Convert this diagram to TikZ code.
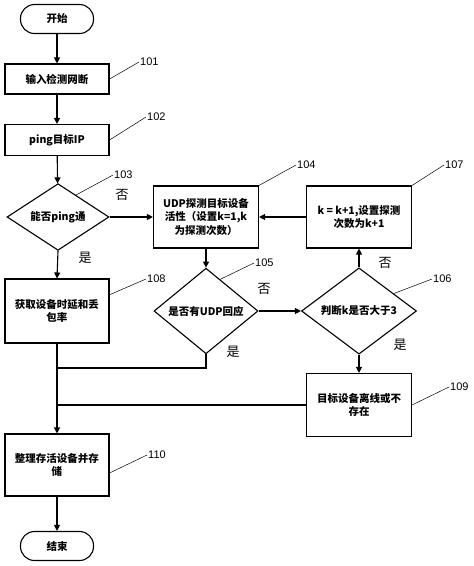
\documentclass[tikz,border=0pt]{standalone}
\usepackage{fontspec}
\setmainfont{Noto Sans CJK SC}
\newfontfamily\numfont{Liberation Sans}
\usetikzlibrary{shapes,arrows,positioning,calc,arrows.meta}

\begin{document}
\begin{tikzpicture}[x=1pt,y=-1pt,
                stepbox/.style={draw,line width=1.1pt,minimum width=104pt,
                                minimum height=31pt,align=center,inner sep=2pt,
                                font=\bfseries\fontsize{10.5}{13.5}\selectfont},
                decision/.style={diamond,draw,line width=1.1pt,inner sep=0pt,
                                 font=\bfseries\fontsize{10.5}{12}\selectfont},
                terminal/.style={draw,line width=1.1pt,rounded corners=14pt,
                                 minimum width=73pt,minimum height=29pt,
                                 font=\bfseries\fontsize{10.5}{12}\selectfont},
                num/.style={font=\numfont\fontsize{11}{12}\selectfont,inner sep=1pt,anchor=west},
                answer/.style={font=\fontsize{13}{14}\selectfont,inner sep=0pt},
                flow/.style={line width=1.1pt,-{Triangle[length=6pt,width=6pt]}},
                linkline/.style={line width=1.1pt},
                leader/.style={line width=0.5pt}
            ]
                \useasboundingbox (0,0) rectangle (474,566);
                % main column
                \node[terminal] (start) at (57,19) {开始};
                \node[stepbox,minimum height=30pt] (s101) at (57,79) {输入检测网断};
                \node[stepbox] (s102) at (57,140) {ping目标IP};
                \node[decision,minimum width=102pt,minimum height=62pt] (d103) at (58,217) {能否ping通};
                \node[stepbox,minimum height=64pt] (s108) at (57,311) {获取设备时延和丢\\包率};
                \node[stepbox,minimum height=62pt] (s110) at (57,465) {整理存活设备并存\\储};
                \node[terminal] (stop) at (57,546) {结束};
                % UDP branch
                \node[stepbox,minimum width=105pt,minimum height=62pt] (s104) at (206,217)
                    {UDP探测目标设备\\活性（设置k=1,k\\为探测次数）};
                \node[decision,minimum width=104pt,minimum height=62pt] (d105) at (206,311) {是否有UDP回应};
                \node[decision,minimum width=115pt,minimum height=62pt] (d106) at (359,311) {判断k是否大于3};
                \node[stepbox,minimum width=105pt,minimum height=62pt] (s107) at (359,217)
                    {k = k+1,设置探测\\次数为k+1};
                \node[stepbox,minimum width=105pt,minimum height=63pt] (s109) at (359,405) {目标设备离线或不\\存在};
                \coordinate (j105) at (206,368);
                \coordinate (m105) at (57,368);
                \coordinate (m109) at (57,405);

                % connectors
                \draw[flow] (start) -- (s101);
                \draw[flow] (s101) -- (s102);
                \draw[flow] (s102) -- (d103);
                \draw[flow] (d103.east) -- (s104.west);
                \draw[flow] (d103.south) -- (s108.north);
                \draw[flow] (s104) -- (d105);
                \draw[flow] (d105.east) -- (d106.west);
                \draw[flow] (d106.north) -- (s107.south);
                \draw[flow] (s107.west) -- (s104.east);
                \draw[flow] (d106.south) -- (s109.north);
                \draw[linkline] (d105.south) -- (j105) -- (m105);
                \draw[linkline] (s109.west) -- (m109);
                \draw[flow] (s108.south) -- (s110.north);
                \draw[flow] (s110) -- (stop);

                % yes / no
                \node[answer] (n103) at (122,195) {否};
                \node[answer] (y103) at (85,258) {是};
                \node[answer] (n105) at (264,289) {否};
                \node[answer] (y105) at (233,352) {是};
                \node[answer] (n106) at (385,263) {否};
                \node[answer] (y106) at (400,345) {是};

                % reference numbers
                \node[num] (l101) at (139,62) {101};
                \node[num] (l102) at (146,117) {102};
                \node[num] (l103) at (113,175) {103};
                \node[num] (l104) at (296,165) {104};
                \node[num] (l105) at (254,263) {105};
                \node[num] (l106) at (432,279) {106};
                \node[num] (l107) at (444,165) {107};
                \node[num] (l108) at (146,279) {108};
                \node[num] (l109) at (449,387) {109};
                \node[num] (l110) at (147,455) {110};
                \draw[leader] (s101.east) -- (l101.west);
                \draw[leader] (s102.east) -- (l102.west);
                \draw[leader] ($(d103.north)!0.35!(d103.east)$) -- (l103.west);
                \draw[leader] (s104.north east) -- (l104.west);
                \draw[leader] ($(d105.north)!0.27!(d105.east)$) -- (l105.west);
                \draw[leader] ($(d106.north)!0.6!(d106.east)$) -- (l106.west);
                \draw[leader] (s107.north east) -- (l107.west);
                \draw[leader] ($(s108.north east)!0.25!(s108.south east)$) -- (l108.west);
                \draw[leader] (s109.east) -- (l109.west);
                \draw[leader] ($(s110.east)+(0,8)$) -- (l110.west);
            \end{tikzpicture}
\end{document}
